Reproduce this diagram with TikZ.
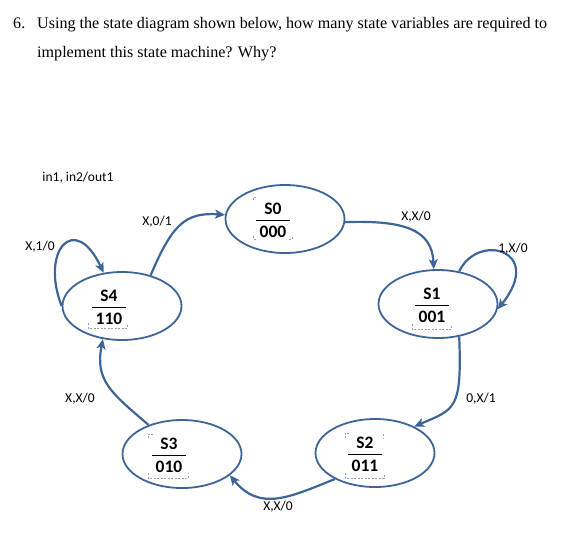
\documentclass[tikz,border=0pt]{standalone}
\usepackage{fontspec}
\setmainfont{Liberation Serif}
\newfontfamily\calibri{Carlito}
\usepackage{tikz}
\usetikzlibrary{shapes.geometric}
\usetikzlibrary{arrows.meta}
\definecolor{stateblue}{RGB}{62,101,152}
\definecolor{boxgray}{RGB}{150,160,180}

\tikzset{
	state/.style={ellipse, draw=stateblue, line width=1.8pt, minimum width=119pt, minimum height=68pt, inner sep=0pt},
	stxt/.style={font={\calibri\bfseries\fontsize{17.5}{20}\selectfont}, inner sep=0pt},
	lbl/.style={font={\calibri\fontsize{13.5}{16}\selectfont}, inner sep=0pt},
	ques/.style={font={\fontsize{16.1}{19}\selectfont}, inner sep=0pt, anchor=base west},
	trans/.style={draw=stateblue, line width=2.2pt, -{Stealth[length=10pt,width=9pt,inset=2.5pt]}},
	boxline/.style={draw=boxgray, line width=0.6pt, dash pattern=on 2pt off 1.5pt},
}

\begin{document}
\begin{tikzpicture}[x=1pt,y=-1pt]
\useasboundingbox (0,0) rectangle (565,550);

\def\STATEBOX(#1)#2#3#4{%
	\begin{scope}[shift={(#1)}]
	\node[state] (#2) at (0,0) {}; % The ellipse of the state
	\node[stxt] (#2 name) at (#4,-10) {#2}; % state name
	\draw[line width=0.9pt] (#4-17,1) -- (#4+17,1); % bar
	\node[stxt] (#2 code) at (#4,13) {#3}; % state code
	\end{scope}
}

% question
\node[ques] (qnum) at (13,28) {6.};
\node[ques] (qline1) at (37,28) {Using the state diagram shown below, how many state variables are required to};
\node[ques] (qline2) at (37,57) {implement this state machine? Why?};

\node[lbl] (legend) at (78,178) {in1, in2/out1};

\STATEBOX(285,219){S0}{000}{-12}
\STATEBOX(438,304){S1}{001}{-6}
\STATEBOX(375,453){S2}{011}{-10}
\STATEBOX(182,454){S3}{010}{-13}
\STATEBOX(122,306){S4}{110}{-13}

% text box leftovers
\draw[boxline] (253,200) -- (253,197) -- (256,197);
\draw[boxline] (253,236) -- (253,239) -- (256,239);
\draw[boxline] (289,239) -- (292,239) -- (292,236);
\draw[boxline] (412,324) -- (412,329) -- (451,329) -- (451,324);
\draw[boxline] (88,323) -- (88,328) -- (127,328) -- (127,323);
\draw[boxline] (148,438) -- (148,434) -- (153,434);
\draw[boxline] (148,473) -- (148,478) -- (188,478) -- (188,473);
\draw[boxline] (345,438) -- (345,433) -- (350,433);
\draw[boxline] (383,434) -- (383,438);
\draw[boxline] (345,473) -- (345,478) -- (384,478) -- (384,473);

% transitions
\draw[trans] (S4.47) .. controls (172,225) and (185,212) .. (S0.176);
\draw[trans] (S0.-3) .. controls (405,220) and (432,230) .. (S1.97);
\draw[trans] (S1.57) .. controls (478,232) and (545,250) .. (S1.355);
\draw[trans] (S1.303) .. controls (462,410) and (455,409) .. (S2.34);
\draw[trans] (S2.213) .. controls (290,497) and (260,512) .. (S3.336);
\draw[trans] (S3.139) .. controls (110,392) and (95,380) .. (S4.240);
\draw[trans] (S4.180) .. controls (40,250) and (75,212) .. (S4.119);

% transition labels
\node[lbl] (l40) at (157,222) {X,0/1};
\node[lbl] (l01) at (416,217) {X,X/0};
\node[lbl] (l11) at (513,249) {1,X/0};
\node[lbl] (l12) at (481,399) {0,X/1};
\node[lbl] (l23) at (278,507) {X,X/0};
\node[lbl] (l34) at (80,399) {X,X/0};
\node[lbl] (l44) at (40,247) {X,1/0};
\end{tikzpicture}
\end{document}
